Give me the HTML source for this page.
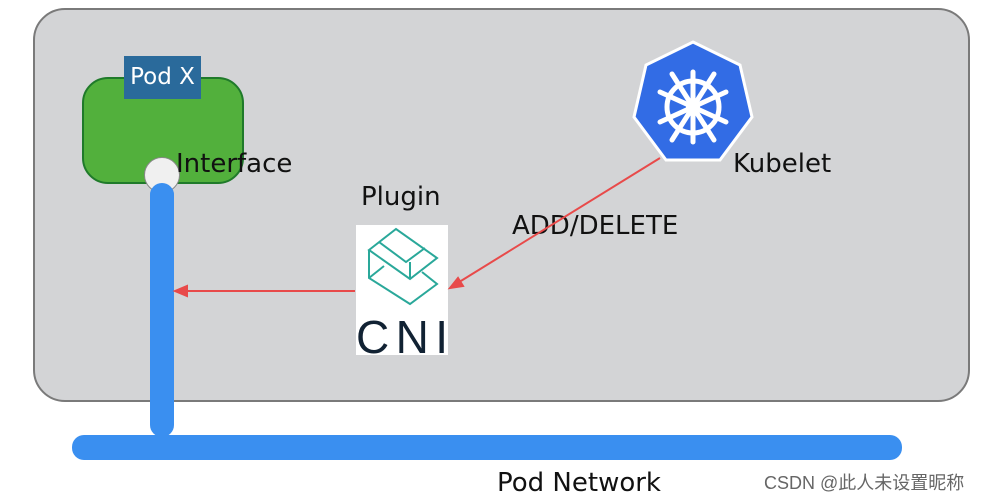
<!DOCTYPE html>
<html><head><meta charset="utf-8"><style>
body{margin:0;width:991px;height:500px;background:#fff;position:relative;overflow:hidden;font-family:"DejaVu Sans","Liberation Sans",sans-serif}
.a{position:absolute}
.t{position:absolute;color:#111;font-size:26px;white-space:nowrap;line-height:1}
</style></head><body>
<div class="a" style="left:33px;top:8px;width:933px;height:390px;background:#d3d4d6;border:2px solid #7a7a7a;border-radius:32px"></div>
<div class="a" style="left:82px;top:77px;width:158px;height:103px;background:#52b03c;border:2px solid #1f7a2a;border-radius:26px"></div>
<div class="a" style="left:124px;top:56px;width:77px;height:43px;background:#2a6a9b;color:#fff;font-size:23px;line-height:43px;text-align:center">Pod X</div>
<div class="a" style="left:150px;top:183px;width:24px;height:254px;background:#3a8ff0;border-radius:12px"></div>
<div class="a" style="left:144px;top:157px;width:34px;height:34px;background:#f0f0f0;border:1.5px solid #888;border-radius:50%"></div>
<div class="a" style="left:150px;top:183px;width:24px;height:30px;background:#3a8ff0;border-radius:12px 12px 0 0"></div>
<div class="a" style="left:72px;top:435px;width:830px;height:25px;background:#3a8ff0;border-radius:12px"></div>
<div class="t" style="left:176px;top:151px">Interface</div>
<div class="t" style="left:361px;top:184px">Plugin</div>
<div class="t" style="left:512px;top:213px">ADD/DELETE</div>
<div class="t" style="left:733px;top:151px">Kubelet</div>
<div class="t" style="left:497px;top:470px">Pod Network</div>
<div class="a" style="left:764px;top:469px;font-size:18px;color:#666;font-family:'Liberation Sans','Noto Sans CJK SC',sans-serif">CSDN @此人未设置昵称</div>
<div class="a" style="left:356px;top:225px;width:92px;height:130px;background:#fff"></div>
<svg class="a" style="left:0;top:0" width="991" height="500">
<g fill="none" stroke="#2aa89a" stroke-width="2">
<path d="M369 250 L396 229 L437 258 L410 279 Z"/>
<path d="M379 242 L406 262 L425 248"/>
<path d="M369 250 L369 278 L410 304 L437 284 L422 272"/>
<path d="M369 278 L384 266"/>
<path d="M410 279 L410 262"/>
</g>
<text x="356" y="353" font-family="Liberation Sans" font-size="46" fill="#123" textLength="92" lengthAdjust="spacing">CNI</text>
<g stroke="#e84a4a" stroke-width="2" fill="#e84a4a">
<line x1="355" y1="291" x2="182" y2="291"/>
<polygon points="175,291 187,286 187,296"/>
<line x1="660" y1="158" x2="456" y2="284"/>
<polygon points="450,288 458,278 463,286"/>
</g>
<polygon points="693,42 740,65 752,117 720,160 666,160 634,117 646,65" fill="#326ce5" stroke="#fff" stroke-width="3"/>
<g stroke="#fff" fill="none" stroke-width="5" stroke-linecap="round">
<circle cx="693" cy="107" r="26"/>
<line x1="693" y1="72" x2="693" y2="142"/><line x1="660" y1="92" x2="726" y2="122"/><line x1="726" y1="92" x2="660" y2="122"/>
<line x1="672" y1="140" x2="714" y2="74"/><line x1="714" y1="140" x2="672" y2="74"/>
</g>
<circle cx="693" cy="107" r="7" fill="#fff"/>
</svg>
</body></html>
